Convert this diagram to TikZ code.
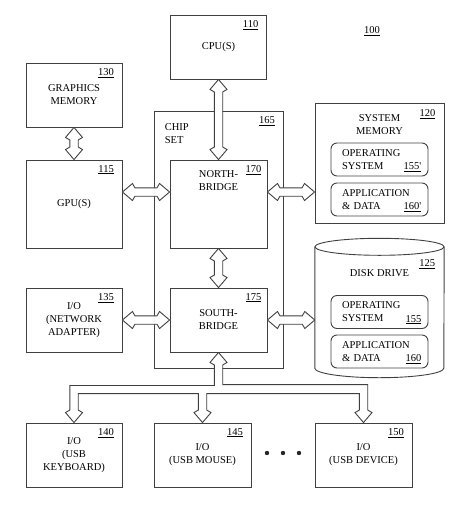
\documentclass[tikz,border=0pt]{standalone}
\usepackage{fontspec}
\setmainfont{Liberation Serif}
\usetikzlibrary{calc, positioning}

\tikzset{
  block/.style={draw=black!75, line width=0.9pt, inner sep=0pt, align=center},
  inbox/.style={draw=black!75, line width=0.9pt, rounded corners=6pt, minimum width=97pt,
    minimum height=33pt, text width=75pt, inner xsep=11pt, inner ysep=0pt, align=left},
  num/.style={inner sep=0pt},
  txt/.style={inner sep=0pt, align=center},
  pipe/.style={draw=black!75, line width=0.9pt, fill=white, line join=miter},
  fatarrow/.style={pipe, to path={
      -- ($(\tikztostart)!10pt!(\tikztotarget)!8.5pt!90:(\tikztotarget)$)
      -- ($(\tikztostart)!12.5pt!(\tikztotarget)!4.2pt!90:(\tikztotarget)$)
      -- ($(\tikztotarget)!12.5pt!(\tikztostart)!4.2pt!90:(\tikztotarget)$)
      -- ($(\tikztotarget)!10pt!(\tikztostart)!8.5pt!90:(\tikztotarget)$)
      -- (\tikztotarget)
      -- ($(\tikztotarget)!10pt!(\tikztostart)!8.5pt!-90:(\tikztotarget)$)
      -- ($(\tikztotarget)!12.5pt!(\tikztostart)!4.2pt!-90:(\tikztotarget)$)
      -- ($(\tikztostart)!12.5pt!(\tikztotarget)!4.2pt!-90:(\tikztotarget)$)
      -- ($(\tikztostart)!10pt!(\tikztotarget)!8.5pt!-90:(\tikztotarget)$)
      -- cycle}},
}

\begin{document}
\begin{tikzpicture}[x=1pt, y=-1pt, font=\fontsize{10.5pt}{13pt}\selectfont]
    \useasboundingbox (0,0) rectangle (474,515);

    % top and left blocks
    \node[block, minimum width=96pt, minimum height=64pt] (cpu) at (218.5,47) {CPU(S)};
    \node[block, minimum width=96pt, minimum height=64pt] (gmem) at (74,95) {GRAPHICS\\MEMORY};
    \node[block, minimum width=96pt, minimum height=88pt] (gpu) at (74,204) {GPU(S)};
    \node[block, minimum width=96pt, minimum height=64pt] (net) at (74,320) {I/O\\(NETWORK\\ADAPTER)};

    % chip set
    \node[block, minimum width=129pt, minimum height=257pt] (chip) at (218.5,239.5) {};
    \node[txt, align=left, below right=12.5pt and 11pt of chip.north west] (chiptxt) {CHIP\\SET};
    \node[block, minimum width=97pt, minimum height=88pt] (nb) at (218.5,204) {};
    \node[txt, below=11pt of nb.north] (nbtxt) {NORTH-\\BRIDGE};
    \node[block, minimum width=97pt, minimum height=64pt] (sb) at (218.5,320) {SOUTH-\\BRIDGE};

    % memory and disk
    \node[block, minimum width=129pt, minimum height=120pt] (sysmem) at (379.5,163) {};
    \node[txt, below=11.5pt of sysmem.north] (smtxt) {SYSTEM\\MEMORY};
    \node[inbox] (os1) at (379.5,159.5) {OPERATING\\SYSTEM};
    \node[inbox] (app1) at (379.5,199.5) {APPLICATION\\\& DATA};

    \node[inner sep=0pt, minimum width=129pt, minimum height=121pt] (disk) at (379.5,307.5) {};
    \draw[draw=black!75, line width=0.9pt] (disk.north west) -- (disk.south west)
      arc[start angle=180, end angle=360, x radius=64.5pt, y radius=9.5pt] -- (disk.north east);
    \draw[draw=black!75, line width=0.9pt] (disk.north) ellipse[x radius=64.5pt, y radius=8.5pt];
    \node[txt, below=22.5pt of disk.north] (dktxt) {DISK DRIVE};
    \node[inbox] (os2) at (379.5,312) {OPERATING\\SYSTEM};
    \node[inbox] (app2) at (379.5,351.5) {APPLICATION\\\& DATA};

    % usb devices
    \node[block, minimum width=96pt, minimum height=64pt] (io1) at (74,455) {I/O\\(USB\\KEYBOARD)};
    \node[block, minimum width=97pt, minimum height=64pt] (io2) at (202.5,455) {I/O\\(USB MOUSE)};
    \node[block, minimum width=97pt, minimum height=64pt] (io3) at (363.5,455) {I/O\\(USB DEVICE)};
    \foreach \x in {267, 283, 299} {
        \fill[black!85] (\x,453) circle[radius=2.2pt];
    };

    % reference numbers
    \node[num] (n100) at (372,31) {\underline{100}};
    \node[num, below left=5.5pt and 8.5pt of cpu.north east] (n110) {\underline{110}};
    \node[num, below left=5.5pt and 8.5pt of gmem.north east] (n130) {\underline{130}};
    \node[num, below left=5.5pt and 8.5pt of gpu.north east] (n115) {\underline{115}};
    \node[num, below left=5.5pt and 8.5pt of chip.north east] (n165) {\underline{165}};
    \node[num, below left=5.5pt and 6pt of nb.north east] (n170) {\underline{170}};
    \node[num, below left=5.5pt and 6pt of sb.north east] (n175) {\underline{175}};
    \node[num, below left=6.5pt and 9pt of sysmem.north east] (n120) {\underline{120}};
    \node[num, below left=13pt and 9pt of disk.north east] (n125) {\underline{125}};
    \node[num, below left=5.5pt and 8.5pt of net.north east] (n135) {\underline{135}};
    \node[num, below left=5.5pt and 8.5pt of io1.north east] (n140) {\underline{140}};
    \node[num, below left=5.5pt and 8.5pt of io2.north east] (n145) {\underline{145}};
    \node[num, below left=5.5pt and 8.5pt of io3.north east] (n150) {\underline{150}};
    \node[num, above left=4.5pt and 7pt of os1.south east] (n155a) {\underline{155\textquotesingle}};
    \node[num, above left=4.5pt and 7pt of app1.south east] (n160a) {\underline{160\textquotesingle}};
    \node[num, above left=4.5pt and 7pt of os2.south east] (n155) {\underline{155}};
    \node[num, above left=4.5pt and 7pt of app2.south east] (n160) {\underline{160}};

    % buses
    \coordinate (gpur) at ([yshift=12pt]gpu.east);
    \coordinate (nbr) at ([yshift=12pt]nb.east);
    \draw[fatarrow] (cpu.south) to (nb.north);
    \draw[fatarrow] (gmem.south) to (gpu.north);
    \draw[fatarrow] (gpur) to (gpur -| nb.west);
    \draw[fatarrow] (nbr) to (nbr -| sysmem.west);
    \draw[fatarrow] (nb.south) to (sb.north);
    \draw[fatarrow] (net.east) to (sb.west);
    \draw[fatarrow] (sb.east) to (sb.east -| disk.west);

    \draw[pipe] (sb.south) -- ++(8.5,10) -- ++(-4.3,2.5) |- ($(io3.north)+(4.2,-38)$)
      -- ($(io3.north)+(4.2,-12.5)$) -- ++(4.3,2.5) -- (io3.north) -- ++(-8.5,-10) -- ++(4.3,-2.5)
      |- ($(io2.north)+(4.2,-29)$)
      -- ($(io2.north)+(4.2,-12.5)$) -- ++(4.3,2.5) -- (io2.north) -- ++(-8.5,-10) -- ++(4.3,-2.5)
      |- ($(io1.north)+(4.2,-29)$)
      -- ($(io1.north)+(4.2,-12.5)$) -- ++(4.3,2.5) -- (io1.north) -- ++(-8.5,-10) -- ++(4.3,-2.5)
      |- ($(sb.south)+(-4.2,33)$) -- ++(0,-20.5) -- ++(-4.3,-2.5) -- cycle;
\end{tikzpicture}
\end{document}
